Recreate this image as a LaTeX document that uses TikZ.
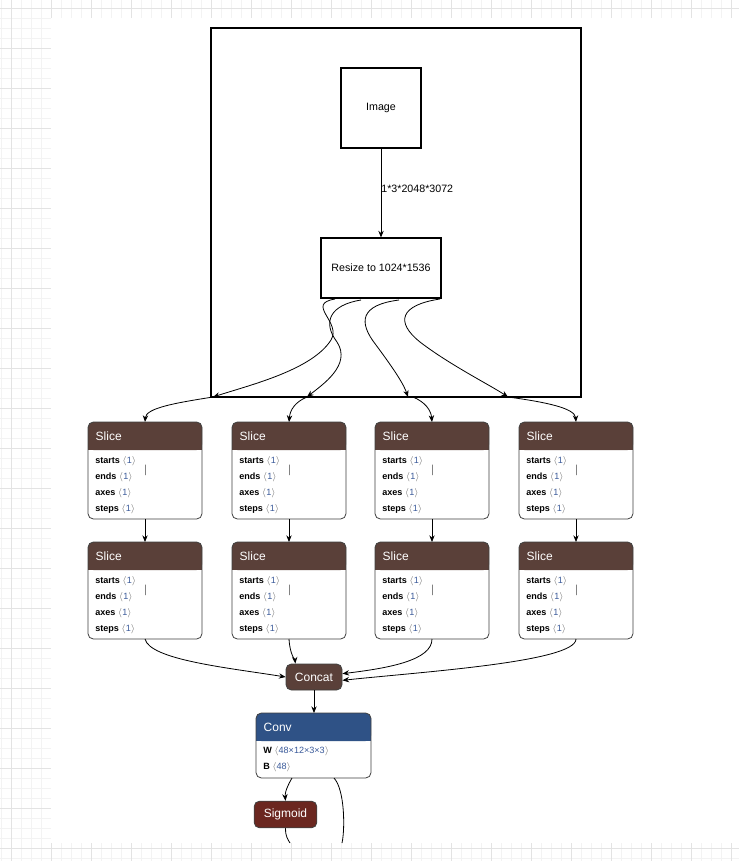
\documentclass[tikz,border=0pt]{standalone}
\usepackage{fontspec}
\setmainfont{Liberation Sans}
\usetikzlibrary{arrows.meta}
\definecolor{slicec}{HTML}{5A4039}
\definecolor{convc}{HTML}{2F5286}
\definecolor{sigc}{HTML}{6B2720}
\definecolor{valc}{HTML}{3A5A9A}
\definecolor{gmin}{HTML}{F3F3F3}
\definecolor{gmaj}{HTML}{E3E3E3}
\tikzset{
  px/.style={x=0.75pt,y=-0.75pt},
  plain/.style={draw=black,line width=0.8pt,fill=white,font=\fontsize{8}{10}\selectfont},
  edge/.style={draw=black,line width=0.6pt,-{Stealth[length=5pt,width=4pt]}},
  line/.style={draw=black,line width=0.6pt},
  card/.style={draw=black!75,line width=0.6pt,rounded corners=4pt,fill=white},
  htxt/.style={text=white,font=\fontsize{9}{11}\selectfont,anchor=west},
  ftxt/.style={font=\bfseries\fontsize{6.8}{8}\selectfont,anchor=west,inner sep=0pt},
  pill/.style={draw=black!75,line width=0.6pt,rounded corners=4pt,text=white,font=\fontsize{9}{11}\selectfont,inner sep=0pt}
}
\newcommand{\vv}[1]{\textcolor{black!55}{$\langle$}\textcolor{valc}{\mdseries #1}\textcolor{black!55}{$\rangle$}}
\newcommand{\slicecard}[3]{% name, left x, top y
  \fill[slicec,rounded corners=4pt] (#2,#3) rectangle (#2+114,#3+28);
  \fill[slicec] (#2,#3+20) rectangle (#2+114,#3+28);
  \node[card,minimum width=0pt,inner sep=0pt,fill=none] (#1) at (#2+57,#3+48.5) {};
  \draw[card,fill=none] (#2,#3) rectangle (#2+114,#3+97);
  \path (#2,#3) coordinate (#1nw) (#2+57,#3) coordinate (#1t) (#2+57,#3+97) coordinate (#1b);
  \node[htxt] at (#2+3,#3+14) {Slice};
  \node[ftxt] at (#2+7,#3+39) {starts \vv{1}};
  \node[ftxt] at (#2+7,#3+55) {ends \vv{1}};
  \node[ftxt] at (#2+7,#3+71) {axes \vv{1}};
  \node[ftxt] at (#2+7,#3+87) {steps \vv{1}};
}
\begin{document}
\begin{tikzpicture}[px]
\useasboundingbox (0,0) rectangle (739,861);
% grid
\foreach \i in {1,11,...,741} \draw[gmin,line width=0.5pt] (\i,0) -- (\i,861);
\foreach \i in {-2,8,...,861} \draw[gmin,line width=0.5pt] (0,\i) -- (739,\i);
\foreach \i in {11,51,...,741} \draw[gmaj,line width=0.6pt] (\i,0) -- (\i,861);
\foreach \i in {8,48,...,861} \draw[gmaj,line width=0.6pt] (0,\i) -- (739,\i);
\fill[white] (51,18) rectangle (739,843);
% big frame
\draw[line width=0.8pt] (211,28) rectangle (581,397);
\node[plain,minimum width=60pt,minimum height=60pt,inner sep=0pt] (img) at (381,108) {Image};
\node[plain,minimum width=90pt,minimum height=45pt,inner sep=0pt] (rsz) at (381,268) {Resize to 1024*1536};
\draw[edge] (img) -- (rsz) node[pos=0.45,anchor=west,inner sep=0pt,font=\fontsize{8}{10}\selectfont,xshift=0pt] {1*3*2048*3072};
% waypoints
\coordinate (w1) at (213,397);
\coordinate (w2) at (307,397);
\coordinate (w3) at (408,397);
\coordinate (w4) at (508,397);
\coordinate (r1) at (335,299);
\coordinate (r2) at (361,300);
\coordinate (r3) at (399,300);
\coordinate (r4) at (440,299);
\draw[edge] (r1) .. controls (305,304) and (342,322) .. (331,340) .. controls (312,370) and (250,385) .. (w1);
\draw[edge] (r2) .. controls (330,305) and (322,322) .. (337,342) .. controls (352,365) and (322,385) .. (w2);
\draw[edge] (r3) .. controls (360,305) and (358,322) .. (376,345) .. controls (396,372) and (404,385) .. (w3);
\draw[edge] (r4) .. controls (400,305) and (395,322) .. (420,342) .. controls (450,365) and (490,385) .. (w4);
% slices
\slicecard{s1}{88}{422}
\slicecard{s2}{232}{422}
\slicecard{s3}{375}{422}
\slicecard{s4}{519}{422}
\slicecard{t1}{88}{542}
\slicecard{t2}{232}{542}
\slicecard{t3}{375}{542}
\slicecard{t4}{519}{542}
\draw[edge] (w1) .. controls (175,403) and (146,408) .. (s1t);
\draw[edge] (w2) .. controls (295,402) and (290,410) .. (s2t);
\draw[edge] (w2) -- (413,397) .. controls (425,402) and (431,410) .. (s3t);
\draw[edge] (w4) .. controls (545,402) and (575,408) .. (s4t);
\foreach \k in {1,2,3,4} \draw[edge] (s\k b) -- (t\k t);
% concat
\node[pill,fill=slicec,minimum width=42pt,minimum height=19.5pt] (cc) at (314,677) {Concat};
\draw[edge] (t1b) .. controls (150,660) and (230,668) .. (cc.west);
\draw[edge] (t2b) .. controls (290,655) and (295,660) .. ([xshift=-14pt]cc.north);
\draw[edge] (t3b) .. controls (432,660) and (390,668) .. ([yshift=2.5pt]cc.east);
\draw[edge] (t4b) .. controls (576,662) and (420,672) .. ([yshift=-2.5pt]cc.east);
% conv
\fill[convc,rounded corners=4pt] (256,713) rectangle (371,741);
\fill[convc] (256,733) rectangle (371,741);
\draw[card,fill=none] (256,713) rectangle (371,778);
\coordinate (cvt) at (314,713);
\node[htxt] at (259,727) {Conv};
\node[ftxt] at (263,751) {W \vv{48×12×3×3}};
\node[ftxt] at (263,767) {B \vv{48}};
\draw[edge] (cc.south) -- (cvt);
% sigmoid
\node[pill,fill=sigc,minimum width=47pt,minimum height=20pt] (sg) at (285.5,814.5) {Sigmoid};
\coordinate (cvb) at (292,778);
\coordinate (cvr) at (334,778);
\coordinate (e1) at (290,843);
\coordinate (e2) at (342,843);
\draw[edge] (cvb) .. controls (285,790) and (285,795) .. (sg.north);
\draw[line] (sg.south) .. controls (285,835) and (288,840) .. (e1);
\draw[line] (cvr) .. controls (345,790) and (345,830) .. (e2);
\end{tikzpicture}
\end{document}
